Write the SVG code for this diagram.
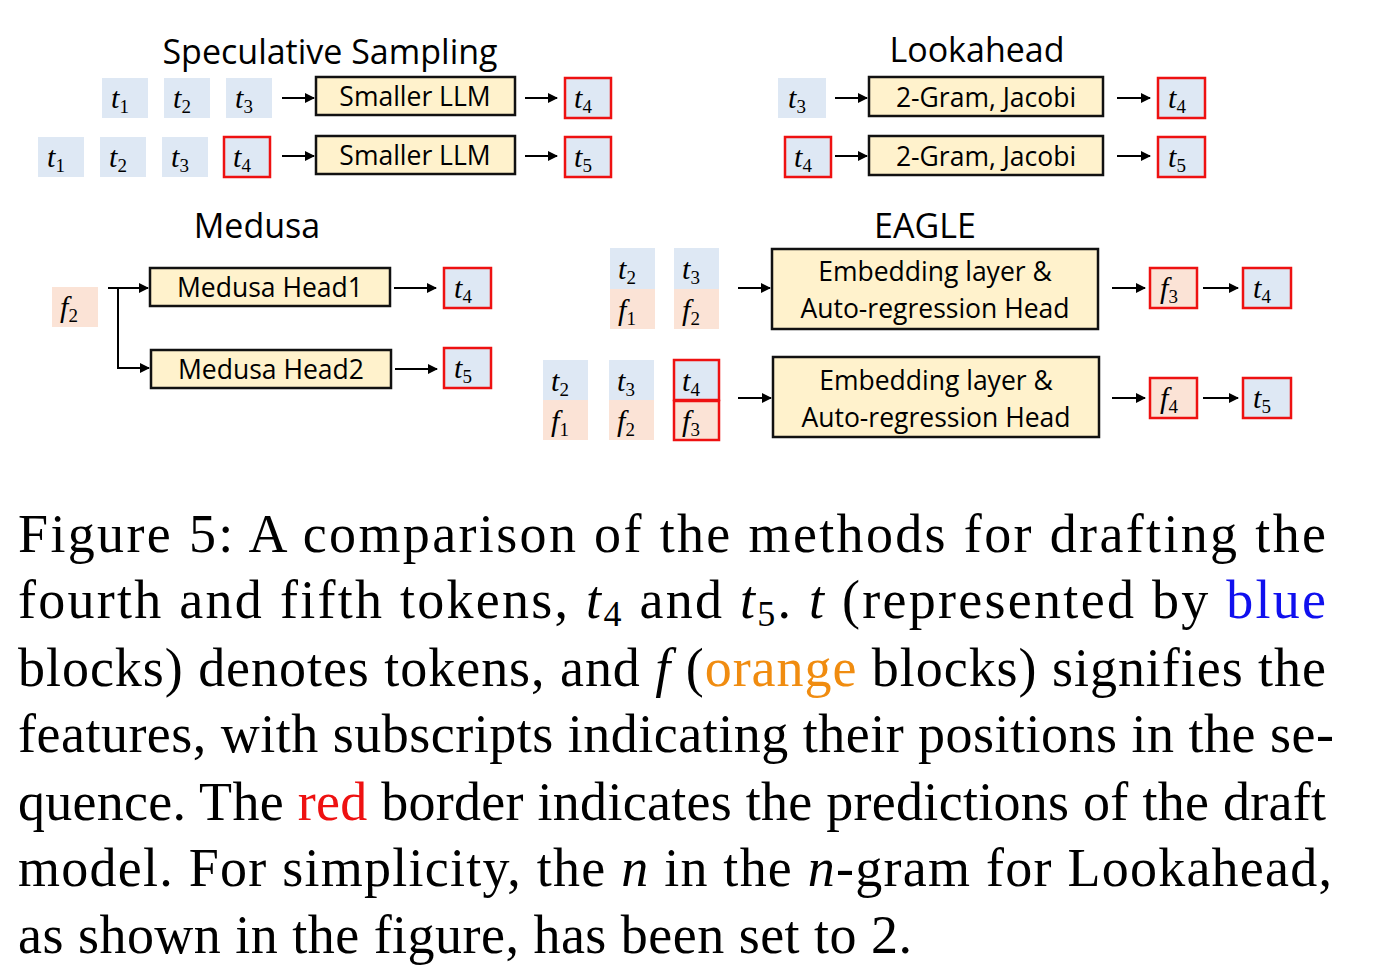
<svg xmlns="http://www.w3.org/2000/svg" width="1400" height="975" viewBox="0 0 1400 975">
<style>
.bl{fill:#dee8f4}.or{fill:#fbe3d6}.rd{fill:none;stroke:#ee1111;stroke-width:2.5}
.box{fill:#fff2cc;stroke:#111;stroke-width:2.5}
.lbl{font-family:"Open Sans","DejaVu Sans",sans-serif;font-size:26.5px;text-anchor:middle;fill:#000}
.ttl{font-family:"Open Sans","DejaVu Sans",sans-serif;font-size:34px;text-anchor:middle;fill:#000}
.m{font-family:"Liberation Serif",serif;font-style:italic;font-size:30px;text-anchor:middle}
.s{font-style:normal;font-size:19px}
.cap{font-family:"Liberation Serif",serif;font-size:54px;fill:#000}
.i{font-style:italic}
.ln{stroke:#000;stroke-width:2;fill:none}
</style>
<defs><marker id="ar" markerWidth="10" markerHeight="10" refX="9" refY="5" orient="auto" markerUnits="userSpaceOnUse"><path d="M0,0L10,5L0,10z" fill="#000"/></marker></defs>
<g id="titles">
<text class="ttl" x="330" y="64">Speculative Sampling</text>
<text class="ttl" x="977" y="62">Lookahead</text>
<text class="ttl" x="257" y="238">Medusa</text>
<text class="ttl" x="925" y="238">EAGLE</text>
</g>
<g id="spec">
<rect class="bl" x="102" y="78" width="46" height="40"/><text class="m" x="120" y="108">t<tspan class="s" dy="5">1</tspan></text>
<rect class="bl" x="164" y="78" width="46" height="40"/><text class="m" x="182" y="108">t<tspan class="s" dy="5">2</tspan></text>
<rect class="bl" x="226" y="78" width="46" height="40"/><text class="m" x="244" y="108">t<tspan class="s" dy="5">3</tspan></text>
<rect class="box" x="316" y="77" width="199" height="38"/><text class="lbl" x="415" y="106">Smaller LLM</text>
<rect class="bl" x="565" y="78" width="46" height="40"/><rect class="rd" x="565" y="78" width="46" height="40"/><text class="m" x="583" y="108">t<tspan class="s" dy="5">4</tspan></text>
<rect class="bl" x="38" y="137" width="46" height="40"/><text class="m" x="56" y="167">t<tspan class="s" dy="5">1</tspan></text>
<rect class="bl" x="100" y="137" width="46" height="40"/><text class="m" x="118" y="167">t<tspan class="s" dy="5">2</tspan></text>
<rect class="bl" x="162" y="137" width="46" height="40"/><text class="m" x="180" y="167">t<tspan class="s" dy="5">3</tspan></text>
<rect class="bl" x="224" y="137" width="46" height="40"/><rect class="rd" x="224" y="137" width="46" height="40"/><text class="m" x="242" y="167">t<tspan class="s" dy="5">4</tspan></text>
<rect class="box" x="316" y="136" width="199" height="38"/><text class="lbl" x="415" y="165">Smaller LLM</text>
<rect class="bl" x="565" y="137" width="46" height="40"/><rect class="rd" x="565" y="137" width="46" height="40"/><text class="m" x="583" y="167">t<tspan class="s" dy="5">5</tspan></text>
</g>
<g id="look">
<rect class="bl" x="778" y="78" width="48" height="40"/><text class="m" x="797" y="108">t<tspan class="s" dy="5">3</tspan></text>
<rect class="box" x="869" y="77" width="234" height="39"/><text class="lbl" x="986" y="107">2-Gram, Jacobi</text>
<rect class="bl" x="1158" y="78" width="47" height="40"/><rect class="rd" x="1158" y="78" width="47" height="40"/><text class="m" x="1177" y="108">t<tspan class="s" dy="5">4</tspan></text>
<rect class="bl" x="785" y="137" width="46" height="40"/><rect class="rd" x="785" y="137" width="46" height="40"/><text class="m" x="803" y="167">t<tspan class="s" dy="5">4</tspan></text>
<rect class="box" x="869" y="136" width="234" height="39"/><text class="lbl" x="986" y="166">2-Gram, Jacobi</text>
<rect class="bl" x="1158" y="137" width="47" height="40"/><rect class="rd" x="1158" y="137" width="47" height="40"/><text class="m" x="1177" y="167">t<tspan class="s" dy="5">5</tspan></text>
</g>
<g id="medusa">
<rect class="or" x="52" y="287" width="46" height="40"/><text class="m" x="69" y="317">f<tspan class="s" dy="5">2</tspan></text>
<rect class="box" x="150" y="268" width="240" height="38"/><text class="lbl" x="270" y="297">Medusa Head1</text>
<rect class="bl" x="444" y="268" width="47" height="40"/><rect class="rd" x="444" y="268" width="47" height="40"/><text class="m" x="463" y="298">t<tspan class="s" dy="5">4</tspan></text>
<rect class="box" x="151" y="350" width="240" height="38"/><text class="lbl" x="271" y="379">Medusa Head2</text>
<rect class="bl" x="444" y="348" width="47" height="40"/><rect class="rd" x="444" y="348" width="47" height="40"/><text class="m" x="463" y="378">t<tspan class="s" dy="5">5</tspan></text>
</g>
<g id="eagle">
<rect class="bl" x="610" y="248" width="45" height="41"/><rect class="or" x="610" y="289" width="45" height="40"/>
<text class="m" x="627" y="279">t<tspan class="s" dy="5">2</tspan></text><text class="m" x="627" y="320">f<tspan class="s" dy="5">1</tspan></text>
<rect class="bl" x="674" y="248" width="45" height="41"/><rect class="or" x="674" y="289" width="45" height="40"/>
<text class="m" x="691" y="279">t<tspan class="s" dy="5">3</tspan></text><text class="m" x="691" y="320">f<tspan class="s" dy="5">2</tspan></text>
<rect class="box" x="772" y="249" width="326" height="80"/><text class="lbl" x="935" y="281">Embedding layer &amp;</text><text class="lbl" x="935" y="318">Auto-regression Head</text>
<rect class="or" x="1150" y="268" width="47" height="40"/><rect class="rd" x="1150" y="268" width="47" height="40"/><text class="m" x="1169" y="298">f<tspan class="s" dy="5">3</tspan></text>
<rect class="bl" x="1243" y="268" width="48" height="40"/><rect class="rd" x="1243" y="268" width="48" height="40"/><text class="m" x="1262" y="298">t<tspan class="s" dy="5">4</tspan></text>
<rect class="bl" x="543" y="360" width="45" height="40"/><rect class="or" x="543" y="400" width="45" height="40"/>
<text class="m" x="560" y="391">t<tspan class="s" dy="5">2</tspan></text><text class="m" x="560" y="431">f<tspan class="s" dy="5">1</tspan></text>
<rect class="bl" x="609" y="360" width="45" height="40"/><rect class="or" x="609" y="400" width="45" height="40"/>
<text class="m" x="626" y="391">t<tspan class="s" dy="5">3</tspan></text><text class="m" x="626" y="431">f<tspan class="s" dy="5">2</tspan></text>
<rect class="bl" x="674" y="360" width="45" height="40"/><rect class="or" x="674" y="400" width="45" height="40"/>
<rect class="rd" x="674" y="360" width="45" height="40"/><rect class="rd" x="674" y="401" width="45" height="39"/>
<text class="m" x="691" y="391">t<tspan class="s" dy="5">4</tspan></text><text class="m" x="691" y="431">f<tspan class="s" dy="5">3</tspan></text>
<rect class="box" x="773" y="357" width="326" height="80"/><text class="lbl" x="936" y="390">Embedding layer &amp;</text><text class="lbl" x="936" y="427">Auto-regression Head</text>
<rect class="or" x="1150" y="378" width="47" height="40"/><rect class="rd" x="1150" y="378" width="47" height="40"/><text class="m" x="1169" y="408">f<tspan class="s" dy="5">4</tspan></text>
<rect class="bl" x="1243" y="378" width="48" height="40"/><rect class="rd" x="1243" y="378" width="48" height="40"/><text class="m" x="1262" y="408">t<tspan class="s" dy="5">5</tspan></text>
</g>
<g id="connectors" marker-end="url(#ar)">
<path class="ln" d="M282,98H314"/><path class="ln" d="M525,98H557"/>
<path class="ln" d="M282,156H314"/><path class="ln" d="M525,156H557"/>
<path class="ln" d="M835,98H867"/><path class="ln" d="M1117,98H1150"/>
<path class="ln" d="M835,156H867"/><path class="ln" d="M1117,156H1150"/>
<path class="ln" d="M108,288H148"/><path class="ln" d="M118,288V368H149"/>
<path class="ln" d="M394,288H436"/><path class="ln" d="M395,369H437"/>
<path class="ln" d="M738,288H770"/><path class="ln" d="M1112,288H1145"/><path class="ln" d="M1203,288H1238"/>
<path class="ln" d="M738,398H771"/><path class="ln" d="M1112,398H1145"/><path class="ln" d="M1203,398H1238"/>
</g>
<g id="caption">
<text class="cap" x="18" y="552" textLength="1308" lengthAdjust="spacing">Figure 5:  A comparison of the methods for drafting the</text>
<text class="cap" x="18" y="618" textLength="1308" lengthAdjust="spacing">fourth and fifth tokens, <tspan class="i">t</tspan><tspan font-size="36" dy="8">4</tspan><tspan dy="-8"> and </tspan><tspan class="i">t</tspan><tspan font-size="36" dy="8">5</tspan><tspan dy="-8">.  </tspan><tspan class="i">t</tspan> (represented by <tspan fill="#1010ee">blue</tspan></text>
<text class="cap" x="18" y="686" textLength="1308" lengthAdjust="spacing">blocks) denotes tokens, and <tspan class="i">f</tspan> (<tspan fill="#f08c10">orange</tspan> blocks) signifies the</text>
<text class="cap" x="18" y="752" textLength="1316" lengthAdjust="spacing">features, with subscripts indicating their positions in the se-</text>
<text class="cap" x="18" y="820" textLength="1308" lengthAdjust="spacing">quence.  The <tspan fill="#ee1111">red</tspan> border indicates the predictions of the draft</text>
<text class="cap" x="18" y="886" textLength="1314" lengthAdjust="spacing">model. For simplicity, the <tspan class="i">n</tspan> in the <tspan class="i">n</tspan>-gram for Lookahead,</text>
<text class="cap" x="18" y="953" textLength="894" lengthAdjust="spacing">as shown in the figure, has been set to 2.</text>
</g>
</svg>
